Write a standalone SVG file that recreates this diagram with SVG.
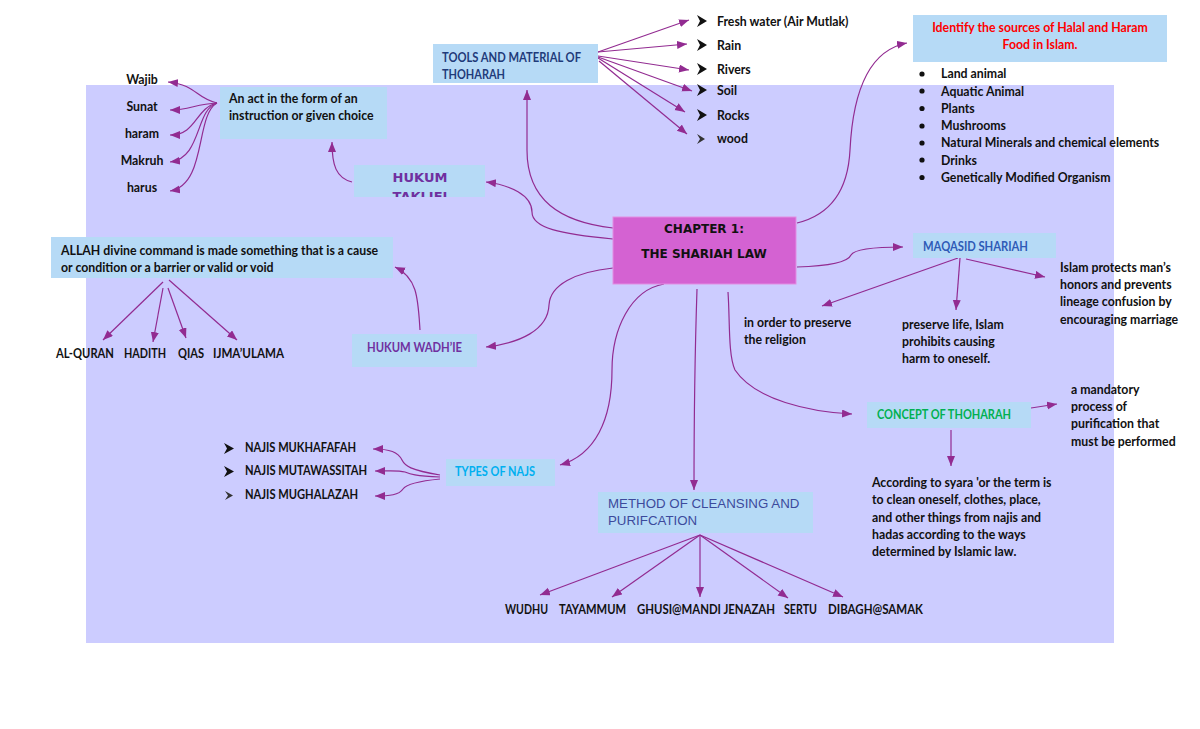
<svg xmlns="http://www.w3.org/2000/svg" width="1200" height="729" viewBox="0 0 1200 729">
<defs>
<marker id="ah" markerUnits="userSpaceOnUse" markerWidth="11" markerHeight="9" refX="10" refY="4" orient="auto">
<path d="M0,0 L10,4 L0,8 z" fill="#922B91"/>
</marker>
<clipPath id="tk"><rect x="354" y="165" width="131" height="32"/></clipPath>
<style>
.c{fill:none;stroke:#922B91;stroke-width:1.2;marker-end:url(#ah)}
.box{fill:#B6DAF6}
.t{font-family:Lato,"Liberation Sans",sans-serif;font-size:12.3px;font-weight:bold;fill:#111}
.dv{font-family:"DejaVu Sans",Verdana,sans-serif;font-weight:bold}
.blt{fill:#111}
</style>
</defs>
<rect x="0" y="0" width="1200" height="729" fill="#FFFFFF"/>
<rect x="86" y="85" width="1028" height="558" fill="#CCCCFF"/>

<g id="connectors">
<path class="c" d="M217,103 C195,98 197,85 168,82"/>
<path class="c" d="M217,103 C195,104 190,110 170,110"/>
<path class="c" d="M217,103 C195,108 197,135 170,135"/>
<path class="c" d="M217,103 C195,110 202,158 170,162"/>
<path class="c" d="M217,103 C195,115 207,185 170,191"/>
<path class="c" d="M352,182 C336,178 332,165 332,142"/>
<path class="c" d="M613,239 C560,234 532,228 532,212 C532,195 510,185 486,182"/>
<path class="c" d="M613,228 C560,222 527,200 527,150 L527,90"/>
<path class="c" d="M598,52 L689,20"/>
<path class="c" d="M598,52 L687,44"/>
<path class="c" d="M598,56 L689,70"/>
<path class="c" d="M598,57 L692,91"/>
<path class="c" d="M598,58 L685,112"/>
<path class="c" d="M599,61 L687,134"/>
<path class="c" d="M797,223 C830,215 848,190 850,150 C853,90 870,50 907,43"/>
<path class="c" d="M797,267 C830,266 848,262 851,255 C855,248 880,247 903,247"/>
<path class="c" d="M958,258 L822,306"/>
<path class="c" d="M960,258 L956,310"/>
<path class="c" d="M966,259 L1045,277"/>
<path class="c" d="M728,292 C730,320 728,355 735,370 C755,400 810,412 852,414"/>
<path class="c" d="M1031,408 L1057,404"/>
<path class="c" d="M951,430 L951,466"/>
<path class="c" d="M664,284 C630,290 612,330 612,370 C612,420 595,455 560,465"/>
<path class="c" d="M697,289 C695,350 694,420 694,490"/>
<path class="c" d="M613,268 C575,272 550,285 549,305 C548,330 520,343 486,347"/>
<path class="c" d="M420,330 C418,300 418,278 395,267"/>
<path class="c" d="M163,282 L103,340"/>
<path class="c" d="M163,288 L153,342"/>
<path class="c" d="M168,288 L186,338"/>
<path class="c" d="M169,280 L237,340"/>
<path class="c" d="M440,475 C410,470 405,466 402,460 C398,452 390,449 373,449"/>
<path class="c" d="M440,477 C415,476 410,474 405,472 C398,470 390,471 375,471"/>
<path class="c" d="M440,479 C410,482 405,486 403,489 C399,495 390,496 375,496"/>
<path class="c" d="M700,535 L540,595"/>
<path class="c" d="M700,535 L612,597"/>
<path class="c" d="M700,535 L700,597"/>
<path class="c" d="M700,535 L788,598"/>
<path class="c" d="M700,535 L843,597"/>
</g>

<g id="chapter">
<rect x="613" y="217" width="183" height="67" fill="#D462D2" stroke="#E28DE2" stroke-width="1"/>
<text class="dv" x="704" y="233" font-size="12" text-anchor="middle" fill="#111">CHAPTER 1:</text>
<text class="dv" x="704" y="258" font-size="12" text-anchor="middle" fill="#111">THE SHARIAH LAW</text>
</g>

<g id="tools">
<rect class="box" x="433" y="44" width="165" height="39"/>
<text class="t" x="442" y="62" style="fill:#1F3B7A" textLength="139" lengthAdjust="spacingAndGlyphs">TOOLS AND MATERIAL OF</text>
<text class="t" x="442" y="79" style="fill:#1F3B7A" textLength="63" lengthAdjust="spacingAndGlyphs">THOHARAH</text>
</g>

<g id="tool-items">
<polygon class="blt" points="697,15 707,21 697,27 700,21"/>
<text class="t" x="717" y="26">Fresh water (Air Mutlak)</text>
<polygon class="blt" points="697,39 707,45 697,51 700,45"/>
<text class="t" x="717" y="50">Rain</text>
<polygon class="blt" points="697,63 707,69 697,75 700,69"/>
<text class="t" x="717" y="74">Rivers</text>
<polygon class="blt" points="697,84 707,90 697,96 700,90"/>
<text class="t" x="717" y="95">Soil</text>
<polygon class="blt" points="697,109 707,115 697,121 700,115"/>
<text class="t" x="717" y="120">Rocks</text>
<polygon points="697,134 705,139 697,144 700,139" fill="#333"/>
<text class="t" x="717" y="143">wood</text>
</g>

<g id="identify">
<rect class="box" x="913" y="15" width="254" height="47"/>
<text class="t" x="1040" y="32" text-anchor="middle" style="fill:#FF0000">Identify the sources of Halal and Haram</text>
<text class="t" x="1040" y="49" text-anchor="middle" style="fill:#FF0000">Food in Islam.</text>
</g>

<g id="food-list">
<circle cx="922" cy="74" r="2.6" fill="#111"/><text class="t" x="941" y="78">Land animal</text>
<circle cx="922" cy="91" r="2.6" fill="#111"/><text class="t" x="941" y="95.5">Aquatic Animal</text>
<circle cx="922" cy="108.5" r="2.6" fill="#111"/><text class="t" x="941" y="113">Plants</text>
<circle cx="922" cy="126" r="2.6" fill="#111"/><text class="t" x="941" y="130">Mushrooms</text>
<circle cx="922" cy="143" r="2.6" fill="#111"/><text class="t" x="941" y="147">Natural Minerals and chemical elements</text>
<circle cx="922" cy="160" r="2.6" fill="#111"/><text class="t" x="941" y="164.5">Drinks</text>
<circle cx="922" cy="177.5" r="2.6" fill="#111"/><text class="t" x="941" y="182">Genetically Modified Organism</text>
</g>

<g id="act">
<rect class="box" x="220" y="87" width="167" height="52"/>
<text class="t" x="229" y="103">An act in the form of an</text>
<text class="t" x="229" y="120">instruction or given choice</text>
</g>

<g id="hukum-types">
<text class="t" x="142" y="84" text-anchor="middle">Wajib</text>
<text class="t" x="142" y="111" text-anchor="middle">Sunat</text>
<text class="t" x="142" y="138" text-anchor="middle">haram</text>
<text class="t" x="142" y="165" text-anchor="middle">Makruh</text>
<text class="t" x="142" y="192" text-anchor="middle">harus</text>
</g>

<g id="hukum-taklifi">
<rect class="box" x="354" y="165" width="131" height="32"/>
<g clip-path="url(#tk)">
<text class="dv" x="420" y="182" font-size="13" text-anchor="middle" fill="#7030A0">HUKUM</text>
<text class="dv" x="420" y="201" font-size="13" text-anchor="middle" fill="#7030A0">TAKLIFI</text>
</g>
</g>

<g id="allah">
<rect class="box" x="51" y="237" width="342" height="41"/>
<text class="t" x="61" y="255">ALLAH divine command is made something that is a cause</text>
<text class="t" x="61" y="272">or condition or a barrier or valid or void</text>
</g>

<g id="sources">
<text class="t" x="56" y="358" textLength="58" lengthAdjust="spacingAndGlyphs">AL-QURAN</text>
<text class="t" x="124" y="358" textLength="42" lengthAdjust="spacingAndGlyphs">HADITH</text>
<text class="t" x="178" y="358" textLength="26" lengthAdjust="spacingAndGlyphs">QIAS</text>
<text class="t" x="213" y="358" textLength="71" lengthAdjust="spacingAndGlyphs">IJMA’ULAMA</text>
</g>

<g id="hukum-wadhie">
<rect class="box" x="352" y="334" width="125" height="33"/>
<text class="t" x="367" y="352" style="fill:#7030A0" textLength="95" lengthAdjust="spacingAndGlyphs">HUKUM WADH’IE</text>
</g>

<g id="maqasid">
<rect class="box" x="913" y="233" width="143" height="25"/>
<text class="t" x="923" y="251" style="fill:#2F5BB7" textLength="105" lengthAdjust="spacingAndGlyphs">MAQASID SHARIAH</text>
</g>

<g id="maqasid-items">
<text class="t" x="744" y="327">in order to preserve</text>
<text class="t" x="744" y="344">the religion</text>
<text class="t" x="902" y="329">preserve life, Islam</text>
<text class="t" x="902" y="346">prohibits causing</text>
<text class="t" x="902" y="363">harm to oneself.</text>
<text class="t" x="1060" y="272">Islam protects man’s</text>
<text class="t" x="1060" y="289">honors and prevents</text>
<text class="t" x="1060" y="306">lineage confusion by</text>
<text class="t" x="1060" y="324">encouraging marriage</text>
</g>

<g id="concept">
<rect class="box" x="867" y="402" width="164" height="26"/>
<text class="t" x="877" y="419" style="fill:#00B050" textLength="134" lengthAdjust="spacingAndGlyphs">CONCEPT OF THOHARAH</text>
</g>

<g id="concept-items">
<text class="t" x="1071" y="394">a mandatory</text>
<text class="t" x="1071" y="411">process of</text>
<text class="t" x="1071" y="428">purification that</text>
<text class="t" x="1071" y="446">must be performed</text>
<text class="t" x="872" y="487">According to syara 'or the term is</text>
<text class="t" x="872" y="504">to clean oneself, clothes, place,</text>
<text class="t" x="872" y="522">and other things from najis and</text>
<text class="t" x="872" y="539">hadas according to the ways</text>
<text class="t" x="872" y="556">determined by Islamic law.</text>
</g>

<g id="types-najs">
<rect class="box" x="446" y="459" width="109" height="27"/>
<text class="t" x="455" y="476" style="fill:#00B0F0" textLength="80" lengthAdjust="spacingAndGlyphs">TYPES OF NAJS</text>
</g>

<g id="najis-items">
<polygon class="blt" points="224,443 234,448.5 224,454 227,448.5"/>
<text class="t" x="245" y="452" textLength="111" lengthAdjust="spacingAndGlyphs">NAJIS MUKHAFAFAH</text>
<polygon class="blt" points="224,466 234,471.5 224,477 227,471.5"/>
<text class="t" x="245" y="475" textLength="122" lengthAdjust="spacingAndGlyphs">NAJIS MUTAWASSITAH</text>
<polygon points="225,491 233,495.5 225,500 228,495.5" fill="#333"/>
<text class="t" x="245" y="499" textLength="113" lengthAdjust="spacingAndGlyphs">NAJIS MUGHALAZAH</text>
</g>

<g id="method">
<rect class="box" x="598" y="492" width="215" height="41"/>
<text x="608" y="508" font-family="'Liberation Sans',Arial,sans-serif" font-size="13.3" fill="#3C4A9C">METHOD OF CLEANSING AND</text>
<text x="608" y="525" font-family="'Liberation Sans',Arial,sans-serif" font-size="13.3" fill="#3C4A9C">PURIFCATION</text>
</g>

<g id="method-items">
<text class="t" x="505" y="614" textLength="43" lengthAdjust="spacingAndGlyphs">WUDHU</text>
<text class="t" x="559" y="614" textLength="67" lengthAdjust="spacingAndGlyphs">TAYAMMUM</text>
<text class="t" x="637" y="614" textLength="138" lengthAdjust="spacingAndGlyphs">GHUSI@MANDI JENAZAH</text>
<text class="t" x="784" y="614" textLength="33" lengthAdjust="spacingAndGlyphs">SERTU</text>
<text class="t" x="828" y="614" textLength="95" lengthAdjust="spacingAndGlyphs">DIBAGH@SAMAK</text>
</g>
</svg>
